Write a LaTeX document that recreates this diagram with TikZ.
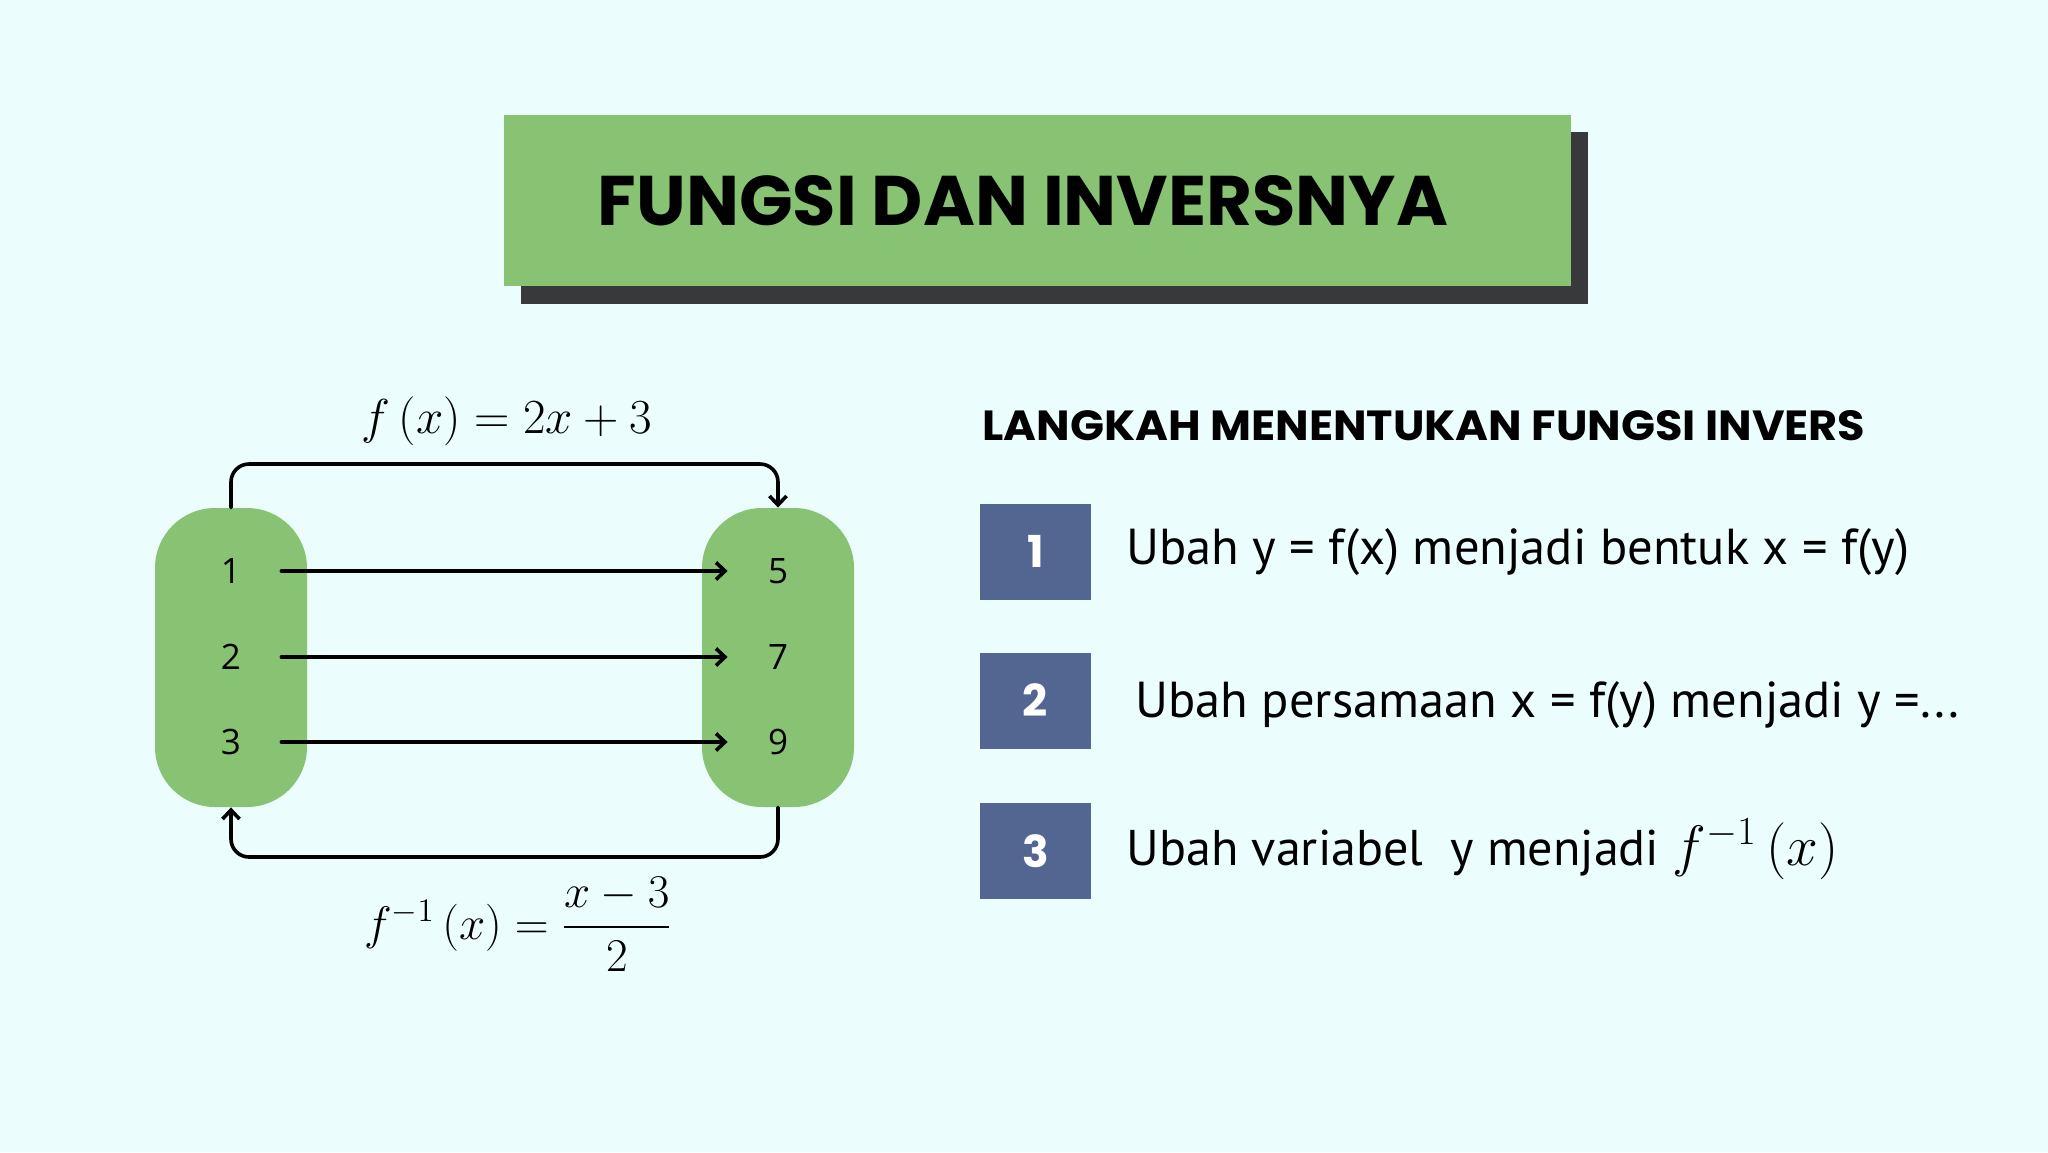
\RequirePackage{fix-cm}
\documentclass[tikz,border=0pt]{standalone}
\usepackage{fontspec}
\usepackage{amsmath}
\setmainfont{Open Sans}
\newfontfamily\popfont{Poppins}
\newfontfamily\ptfont{PT Sans}
\usetikzlibrary{arrows.meta}
\definecolor{bg}{HTML}{EBFDFC}
\definecolor{grn}{HTML}{88C273}
\definecolor{shd}{HTML}{37393B}
\definecolor{blu}{HTML}{536591}
\begin{document}
\begin{tikzpicture}[x=0.5pt,y=-0.5pt,
 pill/.style={fill=grn, rounded corners=30pt, minimum width=76pt, minimum height=149.5pt, inner sep=0},
 num/.style={font=\fontsize{17.5}{20}\selectfont, minimum width=50pt, inner sep=0},
 conn/.style={line width=1.8pt, line cap=round, line join=round, -{Straight Barb[length=4.5pt,width=8.5pt]}},
 stepbox/.style={fill=blu, minimum width=55.5pt, minimum height=48pt, inner sep=0, text=white, font=\popfont\bfseries\fontsize{22}{26}\selectfont},
 steptext/.style={anchor=base west, inner sep=0, font=\ptfont\fontsize{22}{26}\selectfont},
 mathlbl/.style={anchor=base, inner sep=0, font=\fontsize{24.5}{28}\selectfont},
]
\fill[bg] (0,0) rectangle (2048,1152);
\useasboundingbox (0,0) rectangle (2048,1152);
% title
\node[fill=shd, minimum width=533.5pt, minimum height=86pt, inner sep=0] (shadow) at (1054.5,218) {};
\node[fill=grn, minimum width=533.5pt, minimum height=85.5pt, inner sep=0] (titlebox) at (1037.5,200.5) {};
\node[anchor=base, inner sep=0] (ttl) at (1023,225) {\resizebox{425pt}{25pt}{\popfont\bfseries FUNGSI DAN INVERSNYA}};
% left diagram
\node[pill] (L) at (231,657.5) {};
\node[pill] (R) at (778,657.5) {};
\node[num] (a1) at (231,571) {1};
\node[num] (a2) at (231,657) {2};
\node[num] (a3) at (231,742) {3};
\node[num] (b1) at (778,571) {5};
\node[num] (b2) at (778,657) {7};
\node[num] (b3) at (778,742) {9};
\draw[conn] (a1) -- (b1);
\draw[conn] (a2) -- (b2);
\draw[conn] (a3) -- (b3);
\coordinate (T) at (0,464);
\coordinate (B) at (0,857);
\draw[conn, rounded corners=9pt] (L.north) -- (L.north |- T) -- (R.north |- T) -- (R.north);
\draw[conn, rounded corners=9pt] (R.south) -- (R.south |- B) -- (L.south |- B) -- (L.south);
\node[mathlbl] (fx) at (507,433) {$f\left(x\right)=2x+3$};
\node[mathlbl, font=\fontsize{23.5}{28}\selectfont] (finv) at (518,939) {$f^{-1}\left(x\right)=\dfrac{x-3}{2}$};
% right side
\node[anchor=base west, inner sep=0] (hd) at (982,440) {\resizebox{441.5pt}{15pt}{\popfont\bfseries LANGKAH MENENTUKAN FUNGSI INVERS}};
\node[stepbox] (s1) at (1035.5,551.5) {1};
\node[stepbox] (s2) at (1035.5,700.5) {2};
\node[stepbox] (s3) at (1035.5,851) {3};
\node[steptext] (t1) at (1126,564) {\resizebox{391.5pt}{!}{Ubah y = f(x) menjadi bentuk x = f(y)}};
\node[steptext] (t2) at (1135,717) {\resizebox{412pt}{!}{Ubah persamaan x = f(y) menjadi y =...}};
\node[steptext] (t3) at (1126,865) {\resizebox{356pt}{!}{Ubah variabel\ \ y menjadi {\fontsize{25}{30}\selectfont$f^{-1}\left(x\right)$}}};
\end{tikzpicture}
\end{document}
